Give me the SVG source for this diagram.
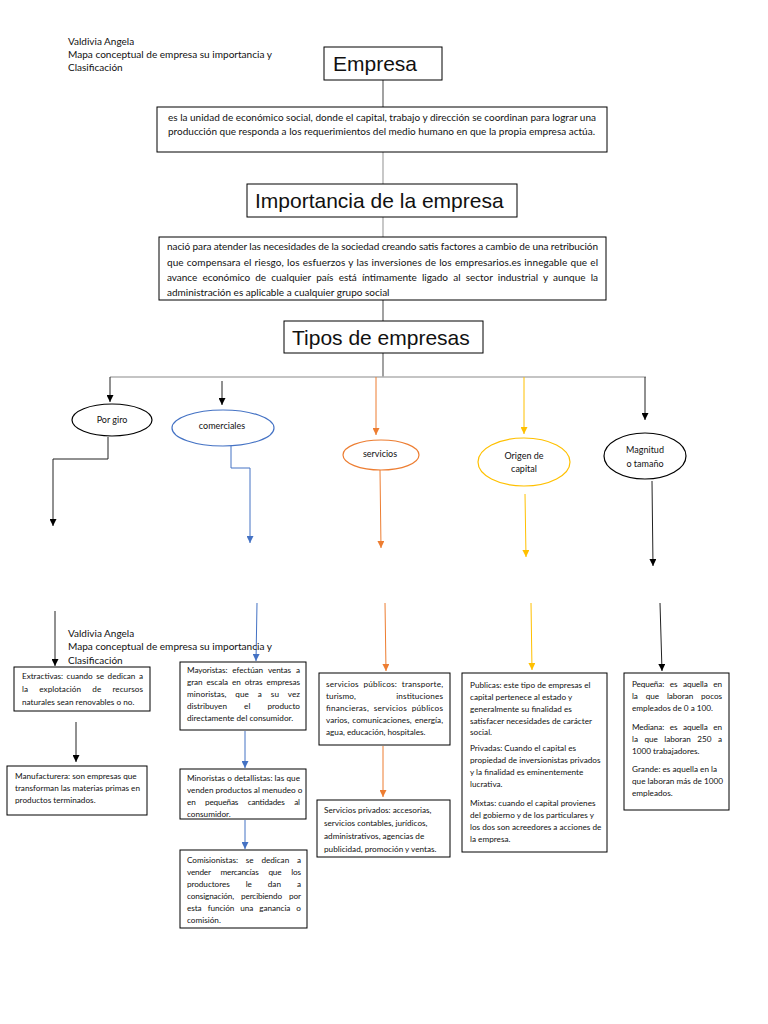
<svg xmlns="http://www.w3.org/2000/svg" width="768" height="1024" viewBox="0 0 768 1024">
<defs>
<style>
.bg{fill:#fff}
.box{fill:#fff;stroke:#000;stroke-width:1}
.title{font-family:"Liberation Sans",Arial,sans-serif;font-size:21px;fill:#111}
.hdr{font-family:Lato,"Liberation Sans",sans-serif;font-size:10px;fill:#111}
.desc{font-family:Lato,"Liberation Sans",sans-serif;font-size:10px;fill:#111}
.sm{font-family:Lato,"Liberation Sans",sans-serif;font-size:8.2px;fill:#111}
.lbl{font-family:Lato,"Liberation Sans",sans-serif;font-size:9px;fill:#111;text-anchor:middle}
.gray{stroke:#7a7a7a;stroke-width:1.4;fill:none}
.lgray{stroke:#b0b0b0;stroke-width:1.4;fill:none}
.blk{stroke:#222;stroke-width:1;fill:none}
.blue{stroke:#4472C4;stroke-width:1;fill:none}
.orange{stroke:#ED7D31;stroke-width:1;fill:none}
.yellow{stroke:#FFC000;stroke-width:1;fill:none}
</style>
<marker id="aK" viewBox="0 0 10 10" refX="10" refY="5" markerWidth="7" markerHeight="7" markerUnits="userSpaceOnUse" orient="auto"><path d="M0,0 L10,5 L0,10 z" fill="#000"/></marker>
<marker id="aB" viewBox="0 0 10 10" refX="10" refY="5" markerWidth="7" markerHeight="7" markerUnits="userSpaceOnUse" orient="auto"><path d="M0,0 L10,5 L0,10 z" fill="#4472C4"/></marker>
<marker id="aO" viewBox="0 0 10 10" refX="10" refY="5" markerWidth="7" markerHeight="7" markerUnits="userSpaceOnUse" orient="auto"><path d="M0,0 L10,5 L0,10 z" fill="#ED7D31"/></marker>
<marker id="aY" viewBox="0 0 10 10" refX="10" refY="5" markerWidth="7" markerHeight="7" markerUnits="userSpaceOnUse" orient="auto"><path d="M0,0 L10,5 L0,10 z" fill="#FFC000"/></marker>
</defs>
<rect class="bg" x="0" y="0" width="768" height="1024"/>

<g id="header">
<text class="hdr" x="68" y="45">Valdivia Angela</text>
<text class="hdr" x="68" y="58" textLength="204" lengthAdjust="spacingAndGlyphs">Mapa conceptual de empresa su importancia y</text>
<text class="hdr" x="68" y="71">Clasificación</text>
</g>

<g id="connectors">
<line class="gray" x1="383" y1="80" x2="383" y2="107"/>
<line class="lgray" x1="383" y1="152" x2="383" y2="184"/>
<line class="lgray" x1="383" y1="217" x2="383" y2="237"/>
<line class="gray" x1="383" y1="300" x2="383" y2="321"/>
<line class="gray" x1="383" y1="353" x2="383" y2="377"/>
<line class="lgray" x1="110" y1="377" x2="646" y2="377"/>
<line class="blk" x1="110" y1="377" x2="110" y2="402" marker-end="url(#aK)"/>
<line class="blk" x1="222" y1="381" x2="222" y2="405" marker-end="url(#aK)"/>
<line class="orange" x1="376" y1="377" x2="376" y2="435" marker-end="url(#aO)"/>
<line class="yellow" x1="524" y1="377" x2="524" y2="434" marker-end="url(#aY)"/>
<line class="blk" x1="645" y1="377" x2="645" y2="420" marker-end="url(#aK)"/>
<polyline class="blk" points="108,437 108,459 53,459 53,526" marker-end="url(#aK)"/>
<polyline class="blue" points="231,446 231,468 250,468 250,543" marker-end="url(#aB)"/>
<line class="orange" x1="380" y1="470" x2="381" y2="548" marker-end="url(#aO)"/>
<line class="yellow" x1="525" y1="494" x2="526" y2="557" marker-end="url(#aY)"/>
<line class="blk" x1="652" y1="481" x2="653" y2="566" marker-end="url(#aK)"/>
<line class="blk" x1="55" y1="611" x2="55" y2="666" marker-end="url(#aK)"/>
<line class="blue" x1="257" y1="603" x2="256" y2="661" marker-end="url(#aB)"/>
<line class="orange" x1="385" y1="603" x2="386" y2="671" marker-end="url(#aO)"/>
<line class="yellow" x1="531" y1="603" x2="532" y2="670" marker-end="url(#aY)"/>
<line class="blk" x1="660" y1="603" x2="662" y2="671" marker-end="url(#aK)"/>
<line class="blk" x1="76" y1="722" x2="76" y2="762" marker-end="url(#aK)"/>
<line class="blue" x1="245" y1="731" x2="245" y2="768" marker-end="url(#aB)"/>
<line class="blue" x1="245" y1="820" x2="245" y2="849" marker-end="url(#aB)"/>
<line class="orange" x1="383" y1="746" x2="383" y2="797" marker-end="url(#aO)"/>
</g>

<g id="empresa">
<rect class="box" x="324" y="47" width="118" height="33"/>
<text class="title" x="333" y="71">Empresa</text>
</g>

<g id="definicion">
<rect class="box" x="157" y="107" width="450" height="45"/>
<text class="desc" x="168" y="121" textLength="428">es la unidad de económico social, donde el capital, trabajo y dirección se coordinan para lograr una</text>
<text class="desc" x="168" y="135">producción que responda a los requerimientos del medio humano en que la propia empresa actúa.</text>
</g>

<g id="importancia">
<rect class="box" x="247" y="184" width="270" height="33"/>
<text class="title" x="255" y="208">Importancia de la empresa</text>
</g>

<g id="importancia-texto">
<rect class="box" x="159" y="237" width="447" height="63"/>
<text class="desc" x="167" y="250" textLength="431">nació para atender las necesidades de la sociedad creando satis factores a cambio de una retribución</text>
<text class="desc" x="167" y="266" textLength="431" word-spacing="0.5">que compensara el riesgo, los esfuerzos y las inversiones de los empresarios.es innegable que el</text>
<text class="desc" x="167" y="281" textLength="431" word-spacing="2.7">avance económico de cualquier país está íntimamente ligado al sector industrial y aunque la</text>
<text class="desc" x="167" y="296">administración es aplicable a cualquier grupo social</text>
</g>

<g id="tipos">
<rect class="box" x="284" y="321" width="199" height="32"/>
<text class="title" x="292" y="345">Tipos de empresas</text>
</g>

<g id="por-giro">
<ellipse cx="112" cy="420" rx="40" ry="16" fill="#fff" stroke="#000" stroke-width="1.2"/>
<text class="lbl" x="112" y="423">Por giro</text>
</g>
<g id="comerciales">
<ellipse cx="223" cy="428" rx="51" ry="18" fill="#fff" stroke="#4472C4" stroke-width="1.2"/>
<text class="lbl" x="222" y="429">comerciales</text>
</g>
<g id="servicios">
<ellipse cx="381" cy="455" rx="38" ry="15" fill="#fff" stroke="#ED7D31" stroke-width="1.2"/>
<text class="lbl" x="380" y="457">servicios</text>
</g>
<g id="origen">
<ellipse cx="524" cy="462" rx="46" ry="24" fill="#fff" stroke="#FFC000" stroke-width="1.2"/>
<text class="lbl" x="524" y="459">Origen de</text>
<text class="lbl" x="524" y="472">capital</text>
</g>
<g id="magnitud">
<ellipse cx="645" cy="456" rx="41" ry="23" fill="#fff" stroke="#000" stroke-width="1.2"/>
<text class="lbl" x="645" y="453">Magnitud</text>
<text class="lbl" x="645" y="467">o tamaño</text>
</g>

<g id="header2">
<text class="hdr" x="68" y="637">Valdivia Angela</text>
<text class="hdr" x="68" y="650" textLength="204" lengthAdjust="spacingAndGlyphs">Mapa conceptual de empresa su importancia y</text>
<text class="hdr" x="68" y="664">Clasificación</text>
</g>

<g id="extractivas">
<rect class="box" x="14" y="667" width="136" height="44"/>
<text class="sm" x="22" y="679" textLength="121" word-spacing="1.5">Extractivas: cuando se dedican a</text>
<text class="sm" x="22" y="692" textLength="121" word-spacing="9">la explotación de recursos</text>
<text class="sm" x="22" y="705">naturales sean renovables o no.</text>
</g>
<g id="manufacturera">
<rect class="box" x="7" y="766" width="140" height="49"/>
<text class="sm" x="15" y="779">Manufacturera: son empresas que</text>
<text class="sm" x="15" y="791">transforman las materias primas en</text>
<text class="sm" x="15" y="803">productos terminados.</text>
</g>

<g id="mayoristas">
<rect class="box" x="180" y="662" width="126" height="68"/>
<text class="sm" x="187" y="673" textLength="113" word-spacing="3">Mayoristas: efectúan ventas a</text>
<text class="sm" x="187" y="685" textLength="113" word-spacing="2">gran escala en otras empresas</text>
<text class="sm" x="187" y="697" textLength="113" word-spacing="6.7">minoristas, que a su vez</text>
<text class="sm" x="187" y="709" textLength="113" word-spacing="15">distribuyen el producto</text>
<text class="sm" x="187" y="721">directamente del consumidor.</text>
</g>
<g id="minoristas">
<rect class="box" x="180" y="769" width="126" height="50"/>
<text class="sm" x="187" y="781" textLength="113">Minoristas o detallistas: las que</text>
<text class="sm" x="187" y="793">venden productos al menudeo o</text>
<text class="sm" x="187" y="805" textLength="113" word-spacing="7.7">en pequeñas cantidades al</text>
<text class="sm" x="187" y="817">consumidor.</text>
</g>
<g id="comisionistas">
<rect class="box" x="180" y="850" width="127" height="78"/>
<text class="sm" x="187" y="863" textLength="114" word-spacing="5.7">Comisionistas: se dedican a</text>
<text class="sm" x="187" y="875" textLength="114" word-spacing="8">vender mercancías que los</text>
<text class="sm" x="187" y="887" textLength="114" word-spacing="14">productores le dan a</text>
<text class="sm" x="187" y="899" textLength="114" word-spacing="5">consignación, percibiendo por</text>
<text class="sm" x="187" y="911" textLength="114" word-spacing="4">esta función una ganancia o</text>
<text class="sm" x="187" y="923">comisión.</text>
</g>

<g id="servicios-publicos">
<rect class="box" x="319" y="673" width="131" height="72"/>
<text class="sm" x="326" y="687" textLength="117" word-spacing="2.5">servicios públicos: transporte,</text>
<text class="sm" x="326" y="699" textLength="117" word-spacing="38">turismo, instituciones</text>
<text class="sm" x="326" y="711" textLength="117" word-spacing="2.5">financieras, servicios públicos</text>
<text class="sm" x="326" y="723" textLength="117" word-spacing="1">varios, comunicaciones, energía,</text>
<text class="sm" x="326" y="735">agua, educación, hospitales.</text>
</g>
<g id="servicios-privados">
<rect class="box" x="317" y="800" width="133" height="57"/>
<text class="sm" x="324" y="813">Servicios privados: accesorias,</text>
<text class="sm" x="324" y="826">servicios contables, jurídicos,</text>
<text class="sm" x="324" y="839">administrativos, agencias de</text>
<text class="sm" x="324" y="852">publicidad, promoción y ventas.</text>
</g>

<g id="publicas">
<rect class="box" x="462" y="673" width="145" height="179"/>
<text class="sm" x="470" y="688">Publicas: este tipo de empresas el</text>
<text class="sm" x="470" y="700">capital pertenece al estado y</text>
<text class="sm" x="470" y="712">generalmente su finalidad es</text>
<text class="sm" x="470" y="724">satisfacer necesidades de carácter</text>
<text class="sm" x="470" y="735">social.</text>
<text class="sm" x="470" y="751">Privadas: Cuando el capital es</text>
<text class="sm" x="470" y="763">propiedad de inversionistas privados</text>
<text class="sm" x="470" y="775">y la finalidad es eminentemente</text>
<text class="sm" x="470" y="787">lucrativa.</text>
<text class="sm" x="470" y="806">Mixtas: cuando el capital provienes</text>
<text class="sm" x="470" y="818">del gobierno y de los particulares y</text>
<text class="sm" x="470" y="830">los dos son acreedores a acciones de</text>
<text class="sm" x="470" y="842">la empresa.</text>
</g>

<g id="pequena">
<rect class="box" x="624" y="673" width="105" height="137"/>
<text class="sm" x="632" y="687" textLength="90" word-spacing="3.7">Pequeña: es aquella en</text>
<text class="sm" x="632" y="699" textLength="90" word-spacing="6">la que laboran pocos</text>
<text class="sm" x="632" y="711">empleados de 0 a 100.</text>
<text class="sm" x="632" y="730" textLength="90" word-spacing="3.7">Mediana: es aquella en</text>
<text class="sm" x="632" y="742" textLength="90" word-spacing="4.5">la que laboran 250 a</text>
<text class="sm" x="632" y="754">1000 trabajadores.</text>
<text class="sm" x="632" y="772">Grande: es aquella en la</text>
<text class="sm" x="632" y="784">que laboran más de 1000</text>
<text class="sm" x="632" y="796">empleados.</text>
</g>
</svg>
